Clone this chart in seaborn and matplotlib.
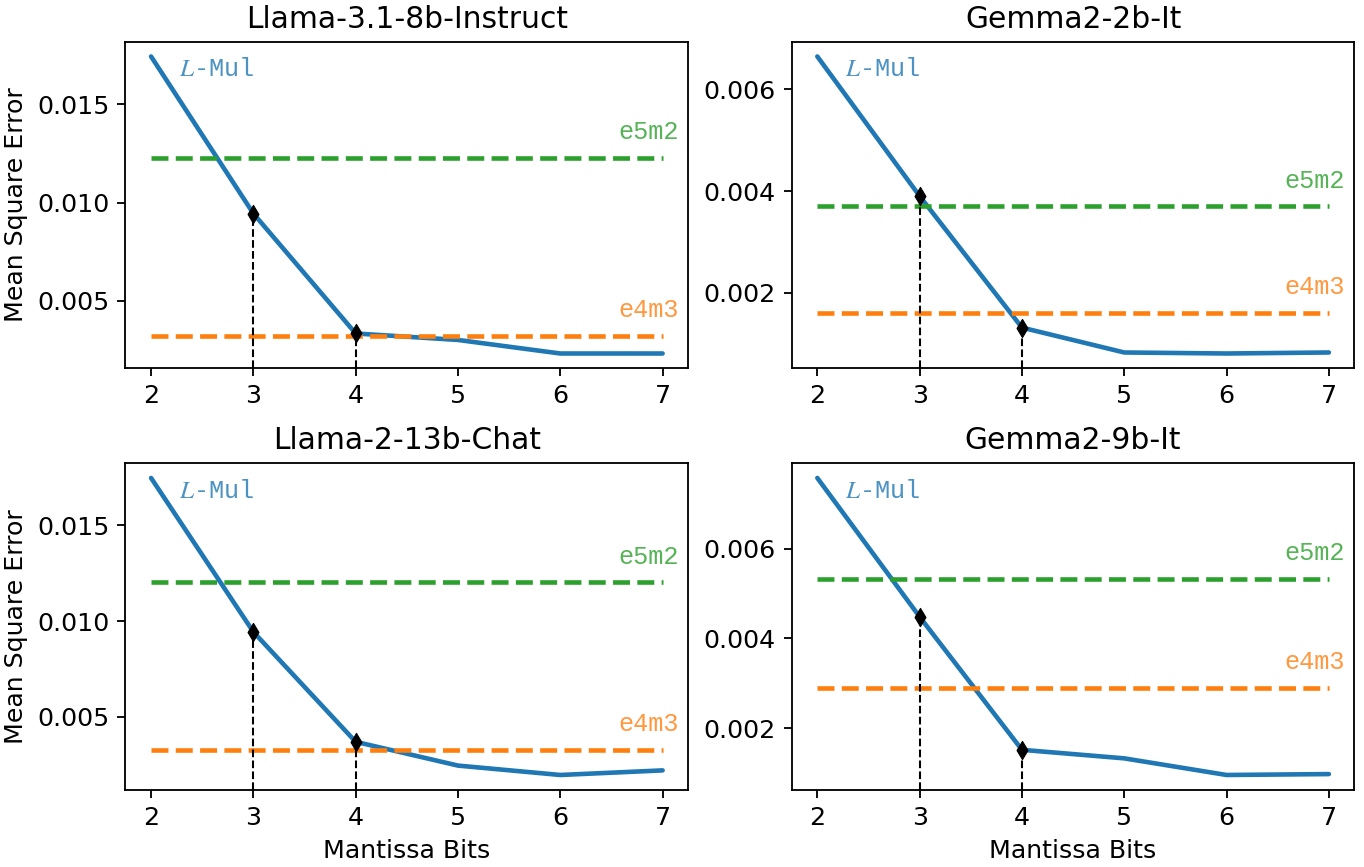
import matplotlib
matplotlib.use("Agg")
import matplotlib.pyplot as plt
from matplotlib.ticker import MultipleLocator
import seaborn as sns
import pandas as pd

# Data
bits = [2, 3, 4, 5, 6, 7]
models = ['Llama-3.1-8b-Instruct', 'Gemma2-2b-It', 'Llama-2-13b-Chat', 'Gemma2-9b-It']
lmul_llama31 = [0.01744, 0.00944, 0.00333, 0.00300, 0.00231, 0.00231]
lmul_gemma2b = [0.00665, 0.00390, 0.00131, 0.00082, 0.00080, 0.00082]
lmul_llama2 = [0.01746, 0.00943, 0.00370, 0.00246, 0.00197, 0.00221]
lmul_gemma9b = [0.00757, 0.00448, 0.00152, 0.00133, 0.00096, 0.00098]
e5m2 = [0.01226, 0.00370, 0.01201, 0.00533]
e4m3 = [0.00322, 0.00160, 0.00327, 0.00290]
ytick_step = [0.005, 0.002, 0.005, 0.002]
marked_bits = [3, 4]

lmul = [lmul_llama31, lmul_gemma2b, lmul_llama2, lmul_gemma9b]

sns.set_style("ticks", {"axes.edgecolor": "black", "xtick.color": "black", "ytick.color": "black",
                        "text.color": "black", "axes.labelcolor": "black"})
plt.rcParams['mathtext.fontset'] = 'stix'
plt.rcParams['font.family'] = ['DejaVu Sans']
plt.rcParams['xtick.labelsize'] = 11
plt.rcParams['ytick.labelsize'] = 11
plt.rcParams['axes.labelsize'] = 11

fig, axes = plt.subplots(2, 2, figsize=(1364 / 165, 867 / 165), dpi=165)
plt.subplots_adjust(left=0.092, right=0.993, top=0.952, bottom=0.089, wspace=0.184, hspace=0.29)

blue, orange, green = sns.color_palette()[0], sns.color_palette()[1], sns.color_palette()[2]

for i, ax in enumerate(axes.flat):
    df = pd.DataFrame({'bits': bits, 'mse': lmul[i]})
    sns.lineplot(data=df, x='bits', y='mse', ax=ax, color=blue, linewidth=2)
    ax.hlines(e5m2[i], bits[0], bits[-1], colors=[green], linestyles='--', linewidth=2)
    ax.hlines(e4m3[i], bits[0], bits[-1], colors=[orange], linestyles='--', linewidth=2)

    # highlighted points + dashed drop lines
    marks = df[df['bits'].isin(marked_bits)]
    sns.scatterplot(data=marks, x='bits', y='mse', ax=ax, marker='d', color='black',
                    s=32, edgecolor='black', zorder=5)
    ylim = ax.get_ylim()
    ax.vlines(marks['bits'], ylim[0], marks['mse'], colors='black', linestyles='--', linewidth=0.9)
    ax.set_ylim(ylim)

    ax.text(2.27, 0.915, '$L$-Mul', transform=ax.get_xaxis_transform(), color=blue, alpha=0.8,
            family='Liberation Mono', fontsize=11, va='center', ha='left')
    ax.annotate('e5m2', (7.16, e5m2[i]), xytext=(0, 6), textcoords='offset points', color=green,
                alpha=0.8, family='Liberation Mono', fontsize=11, ha='right', va='bottom')
    ax.annotate('e4m3', (7.16, e4m3[i]), xytext=(0, 6), textcoords='offset points', color=orange,
                alpha=0.8, family='Liberation Mono', fontsize=11, ha='right', va='bottom')

    ax.yaxis.set_major_locator(MultipleLocator(ytick_step[i]))
    ax.set_title(models[i], fontsize=13)
    ax.set_xticks(bits)
    ax.set_xlabel('Mantissa Bits' if i >= 2 else '')
    ax.set_ylabel('Mean Square Error' if i % 2 == 0 else '')

plt.savefig('out.png', dpi=165)
